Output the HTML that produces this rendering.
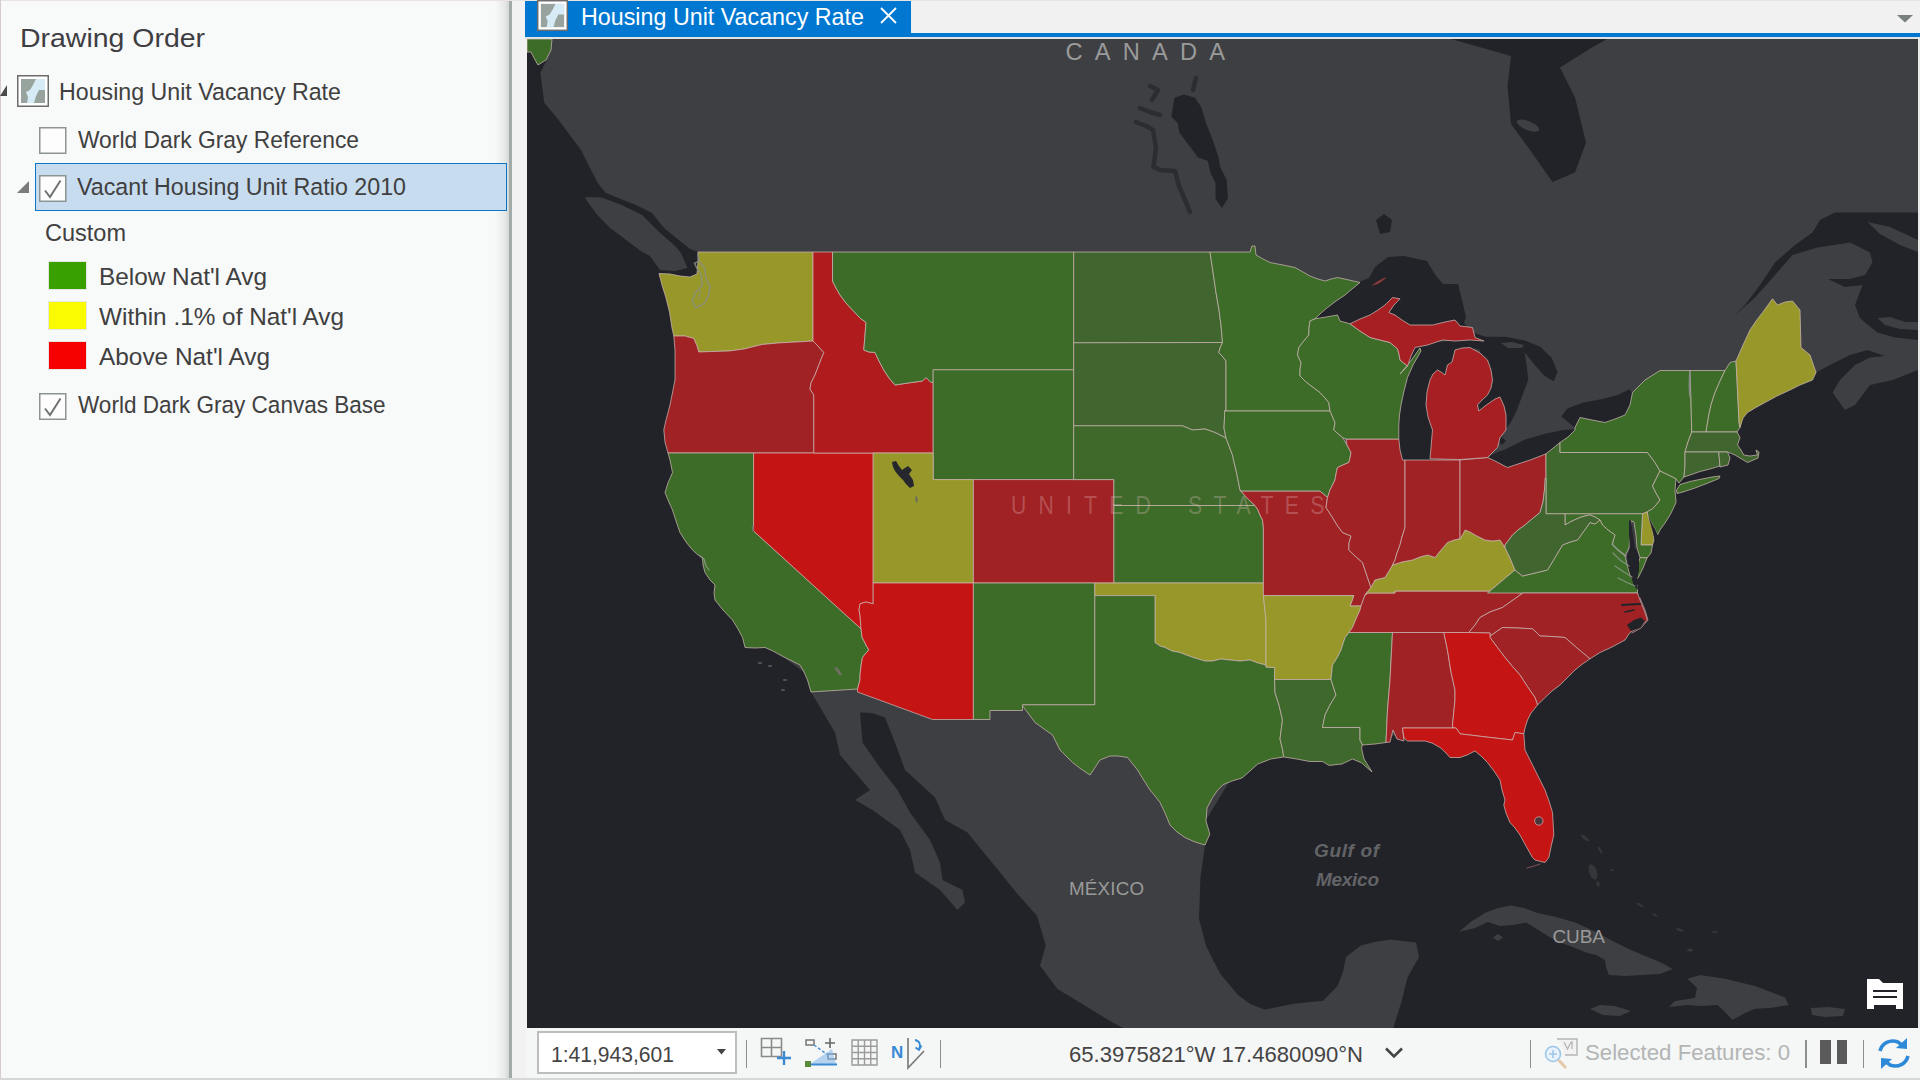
<!DOCTYPE html>
<html><head><meta charset="utf-8"><title>Housing Unit Vacancy Rate</title>
<style>
html,body{margin:0;padding:0}
body{width:1920px;height:1080px;overflow:hidden;position:relative;background:#f5f6f6;font-family:"Liberation Sans",sans-serif;color:#444}
.abs{position:absolute}
.t{position:absolute;white-space:nowrap;transform-origin:0 0;line-height:1}
.cb{position:absolute;width:25px;height:25px;border:1px solid #9a9a9a;background:#fff;box-sizing:border-box}
</style></head><body>

<div class="abs" style="left:0;top:0;width:1920px;height:1px;background:#e8e2e2"></div>
<div class="abs" style="left:0;top:1px;width:512px;height:1079px;background:linear-gradient(90deg,#f8f9f9 0,#f8f9f9 495px,#e6e7e7 505px,#d4d6d5 509px,#a2aba7 509.5px,#a2aba7 512px)"></div>
<div class="abs" style="left:512px;top:1px;width:15px;height:1079px;background:#f2f2f2"></div>
<div class="abs" style="left:0;top:0;width:1px;height:1080px;background:#d3cbce"></div>
<div class="t" style="left:19.6px;top:24.8px;font-size:26.5px;color:#3d3d42;transform:scaleX(1.0737);">Drawing Order</div>
<svg class="abs" style="left:0;top:84px" width="8" height="14" viewBox="0 0 8 14"><path d="M7 1 L7 12 L0 12 Z" fill="#4a4a4a"/></svg>
<svg class="abs" style="left:17.0px;top:74.8px" width="32" height="32" viewBox="0 0 32 32"><rect x="0.75" y="0.75" width="30.5" height="30.5" fill="#fff" stroke="#6d6b6b" stroke-width="1.5"/><rect x="4" y="4" width="24" height="24" fill="#97a39c"/><path d="M19 4 L28 4 L28 15 L22 15 L19 21 L17 28 L10 28 L11 22 L9 17 L13 15 L16 10 Z" fill="#d6ebf5"/></svg>
<div class="t" style="left:59.4px;top:79.6px;font-size:23.9px;color:#404040;transform:scaleX(0.9710);">Housing Unit Vacancy Rate</div>
<svg class="abs" style="left:39.3px;top:127.4px" width="28" height="28" viewBox="0 0 28 28"><rect x="0.75" y="0.75" width="26" height="25.5" fill="#fdfdfd" stroke="#8c9490" stroke-width="1.5"/></svg>
<div class="t" style="left:78.3px;top:127.5px;font-size:23.9px;color:#404040;transform:scaleX(0.9547);">World Dark Gray Reference</div>
<div class="abs" style="left:35px;top:163px;width:471.7px;height:47.5px;box-sizing:border-box;border:1.5px solid #0b76c8;background:#c7dcef"></div>
<svg class="abs" style="left:17px;top:180.5px" width="13" height="13" viewBox="0 0 13 13"><path d="M12 0 L12 12 L0 12 Z" fill="#7b7b7b"/></svg>
<svg class="abs" style="left:39.3px;top:175.3px" width="28" height="28" viewBox="0 0 28 28"><rect x="0.75" y="0.75" width="26" height="25.5" fill="#fdfdfd" stroke="#8c9490" stroke-width="1.5"/><path d="M6 15.5 L11 22 L21.5 5.5" fill="none" stroke="#6e7372" stroke-width="2"/></svg>
<div class="t" style="left:77.3px;top:175.4px;font-size:23.9px;color:#404040;transform:scaleX(0.9727);">Vacant Housing Unit Ratio 2010</div>
<div class="t" style="left:44.8px;top:221.2px;font-size:23.9px;color:#404040;transform:scaleX(0.9845);">Custom</div>
<div class="abs" style="left:47.5px;top:260.8px;width:39.5px;height:29px;box-sizing:border-box;border:1px solid #e4e6e2;background:#38a000"></div>
<div class="t" style="left:99.0px;top:264.7px;font-size:23.9px;color:#404040;transform:scaleX(1.0191);">Below Nat'l Avg</div>
<div class="abs" style="left:47.5px;top:300.7px;width:39.5px;height:29px;box-sizing:border-box;border:1px solid #e4e6e2;background:#fafa00"></div>
<div class="t" style="left:99.0px;top:304.7px;font-size:23.9px;color:#404040;transform:scaleX(1.0188);">Within .1% of Nat'l Avg</div>
<div class="abs" style="left:47.5px;top:341.2px;width:39.5px;height:29px;box-sizing:border-box;border:1px solid #e4e6e2;background:#f60000"></div>
<div class="t" style="left:99.0px;top:344.7px;font-size:23.9px;color:#404040;transform:scaleX(1.0209);">Above Nat'l Avg</div>
<svg class="abs" style="left:39.3px;top:393.0px" width="28" height="28" viewBox="0 0 28 28"><rect x="0.75" y="0.75" width="26" height="25.5" fill="#fdfdfd" stroke="#8c9490" stroke-width="1.5"/><path d="M6 15.5 L11 22 L21.5 5.5" fill="none" stroke="#6e7372" stroke-width="2"/></svg>
<div class="t" style="left:78.3px;top:393.2px;font-size:23.9px;color:#404040;transform:scaleX(0.9430);">World Dark Gray Canvas Base</div>
<div class="abs" style="left:526px;top:1px;width:1394px;height:32px;background:#f1f1f1"></div>
<div class="abs" style="left:525px;top:33px;width:1395px;height:4px;background:#0078d2"></div>
<div class="abs" style="left:525px;top:37px;width:1395px;height:2px;background:#e2e2e2"></div>
<div class="abs" style="left:525px;top:1px;width:386px;height:36px;background:#0078d2"></div>
<svg class="abs" style="left:537.3px;top:0.0px" width="31" height="31" viewBox="0 0 32 32"><rect x="0.75" y="0.75" width="30.5" height="30.5" fill="#fff" stroke="#6d6b6b" stroke-width="1.5"/><rect x="4" y="4" width="24" height="24" fill="#97a39c"/><path d="M19 4 L28 4 L28 15 L22 15 L19 21 L17 28 L10 28 L11 22 L9 17 L13 15 L16 10 Z" fill="#d6ebf5"/></svg>
<div class="t" style="left:580.8px;top:4.9px;font-size:24.4px;color:#ffffff;transform:scaleX(0.9545);">Housing Unit Vacancy Rate</div>
<svg class="abs" style="left:879px;top:6.3px" width="20" height="20" viewBox="0 0 20 20"><path d="M2 2 L17 17 M17 2 L2 17" stroke="#fff" stroke-width="1.8" fill="none"/></svg>
<svg class="abs" style="left:1896.5px;top:15px" width="16" height="8" viewBox="0 0 16 8"><path d="M0 0 L16 0 L8 7.5 Z" fill="#7a807d"/></svg>
<div class="abs" style="left:527px;top:39px;width:1391px;height:989px;background:#222328;overflow:hidden">
<svg width="1391" height="989" viewBox="0 0 1391 989" style="position:absolute;left:0;top:0">
<path d="M25.6,-1.0L1391.0,-1.0L1391.0,173.5L1308.0,173.5L1293.0,181.0L1285.5,193.5L1268.0,206.0L1248.0,223.5L1233.0,246.0L1218.0,266.0L1205.5,278.5L1228.0,258.5L1248.0,236.0L1265.5,216.0L1290.5,208.5L1323.0,203.5L1343.0,213.5L1345.5,223.5L1338.0,236.0L1323.0,240.0L1301.0,240.0L1318.0,248.0L1335.5,246.0L1328.0,266.0L1333.0,279.0L1338.0,283.5L1350.5,293.5L1368.0,298.5L1391.0,301.0L1391.0,331.0L1365.5,341.0L1343.0,346.0L1328.0,366.0L1318.0,371.0L1305.5,353.5L1313.0,341.0L1328.0,326.0L1343.0,318.5L1358.0,317.0L1340.5,311.0L1323.0,316.0L1303.0,326.0L1289.0,333.5L1263.0,339.0L1209.0,376.0L1203.0,411.0L1173.0,421.0L1145.0,435.0L1123.0,481.0L1103.0,521.0L1105.0,556.0L1111.0,573.0L1058.0,616.0L1005.0,661.0L991.0,699.0L1013.0,761.0L1018.0,806.0L1011.0,811.0L983.0,751.0L965.0,721.0L943.0,706.0L913.0,701.0L873.0,696.0L833.0,701.0L818.0,711.0L758.0,706.0L708.0,733.0L673.0,791.0L678.0,806.0L673.4,839.0L672.0,880.0L679.0,906.4L686.0,921.0L693.8,935.6L711.0,956.0L723.0,965.0L737.6,970.6L766.8,964.8L796.0,961.8L810.5,947.0L816.0,933.0L819.0,918.0L833.8,906.4L848.0,903.0L863.0,900.6L889.0,903.5L892.0,918.0L880.5,938.5L874.7,961.8L866.0,990.0L597.6,990.0L583.0,982.0L559.7,967.7L530.5,950.0L513.0,926.8L518.8,906.4L510.0,877.0L489.7,854.0L466.0,824.8L453.0,809.0L440.5,793.5L418.0,781.0L408.0,758.5L378.0,731.0L368.0,703.5L358.0,678.5L345.0,674.0L333.0,673.5L335.5,703.5L353.0,728.5L370.5,751.0L383.0,773.5L403.0,801.0L413.0,823.5L415.5,841.0L435.5,851.0L438.0,863.5L430.5,871.0L413.0,851.0L388.0,833.5L383.0,811.0L373.0,791.0L345.5,771.0L328.0,761.0L343.0,751.0L313.0,716.0L308.0,693.5L284.0,653.0L288.0,641.0L233.0,601.0L193.0,551.0L163.0,501.0L148.0,431.0L153.0,311.0L173.0,261.0L171.0,213.0L163.0,210.0L153.0,202.0L137.0,189.0L125.0,174.0L109.0,166.0L94.8,160.5L78.5,153.8L70.4,143.6L62.2,127.3L54.0,111.0L41.9,94.8L29.7,78.5L17.4,64.0L15.4,50.0L13.4,33.7L19.5,21.4Z" fill="#3e3f42"/>
<path d="M58.0,158.0L74.5,158.5L94.8,166.0L115.0,176.0L131.5,192.5L147.8,206.8L154.0,214.0L160.5,229.0L148.0,232.0L133.0,231.0L123.0,217.0L115.2,213.0L98.9,200.7L82.6,188.4L70.4,176.0L60.0,162.0Z" fill="#3e3f42"/>
<path d="M931.8,893.0L945.0,882.0L958.0,874.0L971.0,869.0L984.0,866.6L997.0,869.0L1010.5,874.0L1029.0,878.0L1048.0,883.5L1067.0,892.0L1085.5,902.0L1104.0,911.0L1123.0,919.0L1135.0,924.0L1145.5,930.0L1133.0,935.0L1115.5,936.0L1098.0,937.0L1081.8,936.0L1079.0,928.0L1078.0,921.0L1069.0,916.0L1059.0,913.5L1043.0,907.0L1029.0,902.0L1013.0,892.0L999.0,883.5L986.0,886.0L973.0,887.0L961.0,883.0L948.0,889.0Z" fill="#3e3f42"/>
<path d="M1160.5,939.8L1173.0,936.0L1198.0,939.8L1228.0,947.0L1258.0,958.5L1261.8,966.0L1243.0,969.0L1228.0,969.8L1218.0,974.0L1205.5,981.0L1198.0,973.0L1190.5,966.0L1173.0,967.0L1160.5,966.0L1141.8,968.0L1148.0,962.0L1168.0,959.0L1170.0,949.0Z" fill="#3e3f42"/>
<path d="M1063.0,970.0L1073.0,966.0L1088.0,967.0L1104.0,972.0L1093.0,977.0L1076.0,976.0Z" fill="#3e3f42"/>
<path d="M1284.0,969.0L1301.0,968.0L1318.0,970.0L1316.0,977.0L1298.0,978.0L1285.0,976.0Z" fill="#3e3f42"/>
<path d="M1340.5,183.0L1363.0,188.0L1391.0,201.0L1391.0,213.0L1373.0,206.0L1353.0,195.0Z" fill="#3e3f42"/>
<path d="M1350.5,279.0L1363.0,278.0L1378.0,283.0L1391.0,283.0L1391.0,291.0L1373.0,290.0L1358.0,286.0Z" fill="#3e3f42"/>
<path d="M966.0,898.5L971.0,895.0L976.0,898.5L971.0,902.0Z" fill="#3e3f42"/>
<path d="M783.0,282.0L800.5,268.5L818.0,256.0L832.0,243.0L842.0,239.0L848.0,228.0L861.0,218.0L877.0,217.0L900.0,222.0L908.0,235.5L916.0,245.0L931.0,245.0L935.0,261.0L939.0,278.0L937.0,284.0L943.0,291.0L933.0,296.0L883.0,296.0L863.0,281.0L823.0,291.0Z" fill="#222328"/>
<path d="M873.0,306.0L959.0,299.0L943.0,313.0L913.0,341.0L909.0,426.0L868.0,426.0L868.0,341.0Z" fill="#222328"/>
<path d="M939.0,294.0L947.0,294.0L958.6,297.7L978.0,297.7L997.5,301.6L1013.0,307.4L1024.7,319.0L1030.5,332.7L1026.7,342.4L1017.0,336.6L1007.0,325.0L997.5,313.0L999.4,325.0L1001.4,340.5L995.5,356.0L989.7,371.6L983.9,383.3L978.0,391.0L973.0,399.0L953.0,381.0L948.0,361.0L953.0,311.0L938.0,306.0Z" fill="#222328"/>
<path d="M960.0,420.0L964.4,416.0L972.0,412.4L978.0,410.5L997.5,400.8L1017.0,395.0L1036.4,391.0L1050.0,390.0L1050.0,394.0L1035.0,407.0L1019.0,417.0L1003.0,423.0L980.5,430.0L968.0,424.0Z" fill="#222328"/>
<path d="M1034.4,377.4L1040.3,369.6L1055.8,363.8L1075.3,360.0L1090.8,356.0L1102.5,350.2L1106.4,356.0L1106.0,368.0L1098.0,379.0L1078.0,385.0L1053.0,380.0L1048.0,389.0Z" fill="#222328"/>
<path d="M971.0,402.0L975.0,398.0L979.0,402.0L975.0,406.0Z" fill="#222328"/>
<path d="M920.5,-1.0L1081.8,-1.0L1063.0,9.8L1033.0,28.5L1048.0,58.5L1059.0,103.5L1048.0,133.5L1025.5,143.0L1003.0,111.0L984.0,85.0L980.5,47.0L984.0,17.0Z" fill="#222328"/>
<path d="M647.5,58.8L657.0,55.6L668.0,58.8L674.3,68.2L679.0,84.0L685.3,99.7L691.6,118.6L693.2,128.0L699.5,140.6L701.0,159.5L694.8,169.0L688.5,159.5L688.5,143.8L683.7,134.3L680.6,121.7L671.0,118.6L661.7,106.0L652.3,93.4L650.7,84.0L644.4,77.7L646.0,66.6Z" fill="#222328"/>
<path d="M849.0,181.0L857.0,175.0L865.0,181.0L863.0,193.0L853.0,195.0Z" fill="#222328"/>
<path d="M623.0,47.0L631.0,51.0L625.0,61.0" fill="none" stroke="#2c2d32" stroke-width="4.5" stroke-linejoin="round" stroke-linecap="round"/>
<path d="M613.0,69.0L623.0,73.0L633.0,76.0" fill="none" stroke="#2c2d32" stroke-width="4.5" stroke-linejoin="round" stroke-linecap="round"/>
<path d="M609.0,83.0L619.0,87.0L626.0,91.0L629.0,109.0L626.5,128.0L633.0,131.0L648.0,132.0L652.0,147.0L658.0,161.0L663.0,173.0" fill="none" stroke="#2c2d32" stroke-width="4.5" stroke-linejoin="round" stroke-linecap="round"/>
<path d="M669.0,39.0L666.0,51.0" fill="none" stroke="#2c2d32" stroke-width="4.5" stroke-linejoin="round" stroke-linecap="round"/>
<ellipse cx="1001.0" cy="86.6" rx="12" ry="4.5" fill="#3e3f42" transform="rotate(22 1001.0 86.6)"/>
<path d="M974.0,304.0L985.0,303.0L997.0,306.0L995.0,309.0L981.0,309.0Z" fill="#3e3f42"/>
<path d="M844.0,247.0L851.0,242.0L859.0,238.0L858.0,240.0L851.0,245.0Z" fill="#8a3a3c"/>
<g stroke="#c9b4b0" stroke-opacity="0.75" stroke-width="1" stroke-linejoin="round">
<path d="M286.0,213.0L171.0,213.0L171.0,223.0L170.0,235.0L163.0,238.0L153.0,237.0L143.0,235.0L132.0,234.5L135.0,246.0L139.0,259.0L142.5,273.0L145.0,289.0L146.8,297.0L146.8,297.0L158.0,297.0L166.8,299.5L170.0,307.0L171.8,313.0L186.0,312.5L202.0,312.0L217.0,310.0L235.0,305.5L251.0,304.0L286.0,302.0Z" fill="#98982a"/>
<path d="M146.8,297.0L158.0,297.0L166.8,299.5L170.0,307.0L171.8,313.0L186.0,312.5L202.0,312.0L217.0,310.0L235.0,305.5L251.0,304.0L286.0,302.0L286.0,302.0L291.0,307.0L296.8,313.5L293.0,323.0L288.0,336.0L284.0,344.0L283.0,350.0L286.8,356.0L286.8,414.0L141.0,414.0L141.0,414.0L138.0,403.0L136.8,391.0L139.0,381.0L143.0,366.0L145.0,356.0L148.0,341.0L148.0,311.0L146.8,297.0Z" fill="#a02224"/>
<path d="M141.0,414.0L226.6,414.0L226.6,492.0L334.0,589.8L334.0,589.8L335.0,598.0L339.0,606.0L341.8,611.0L339.0,614.0L335.5,618.5L334.0,627.0L333.0,636.0L333.0,641.0L330.5,650.0L284.0,653.0L284.0,653.0L280.5,641.0L277.0,633.0L273.0,626.0L263.0,621.0L253.0,616.0L246.0,612.0L238.0,608.5L228.0,609.0L218.0,608.5L215.5,598.5L211.0,590.0L205.5,581.0L196.0,571.0L188.0,561.0L187.0,554.0L188.0,546.0L183.0,541.0L178.0,533.5L176.0,526.0L175.5,518.5L171.0,516.0L165.5,511.0L159.0,503.0L153.0,493.5L149.0,482.0L145.5,471.0L141.0,461.0L138.0,453.5L141.0,444.0L145.5,433.5L143.0,421.0L141.0,414.0Z" fill="#3d6c29"/>
<path d="M226.6,414.0L346.2,414.0L346.2,564.8L346.2,564.8L339.0,563.0L333.0,564.8L332.0,571.0L333.0,576.0L334.0,589.8L226.6,492.0Z" fill="#c41414"/>
<path d="M286.0,213.0L305.5,213.0L305.5,242.0L309.0,249.0L313.0,256.0L319.0,264.0L325.5,271.0L333.0,279.0L339.0,283.5L338.0,296.0L336.8,311.0L342.0,313.0L348.0,313.5L352.0,322.0L356.8,331.0L362.0,339.0L368.0,346.0L381.0,344.0L395.5,342.0L399.0,338.5L404.0,343.5L406.2,343.0L406.2,414.0L286.8,414.0L286.8,414.0L286.8,356.0L283.0,350.0L284.0,344.0L288.0,336.0L293.0,323.0L296.8,313.5L291.0,307.0L286.0,302.0Z" fill="#b01c1e"/>
<path d="M305.5,213.0L546.7,213.0L546.7,330.8L406.2,330.8L406.2,343.0L404.0,343.5L399.0,338.5L395.5,342.0L381.0,344.0L368.0,346.0L362.0,339.0L356.8,331.0L352.0,322.0L348.0,313.5L342.0,313.0L336.8,311.0L338.0,296.0L339.0,283.5L333.0,279.0L325.5,271.0L319.0,264.0L313.0,256.0L309.0,249.0L305.5,242.0L305.5,213.0Z" fill="#3d6c29"/>
<path d="M406.2,330.8L546.7,330.8L546.7,440.6L406.2,440.6Z" fill="#3d6c29"/>
<path d="M346.2,414.0L406.2,414.0L406.2,440.6L446.4,440.6L446.4,544.0L346.2,544.0Z" fill="#98982a"/>
<path d="M446.4,440.6L586.9,440.6L586.9,544.0L446.4,544.0Z" fill="#a02224"/>
<path d="M346.2,544.0L446.4,544.0L446.4,680.5L405.5,680.5L330.5,653.0L330.5,650.0L333.0,641.0L333.0,636.0L334.0,627.0L335.5,618.5L339.0,614.0L341.8,611.0L339.0,606.0L335.0,598.0L334.0,589.8L334.0,589.8L333.0,576.0L332.0,571.0L333.0,564.8L339.0,563.0L346.2,564.8Z" fill="#c41414"/>
<path d="M446.4,544.0L567.8,544.0L567.8,665.8L495.5,665.8L495.5,671.5L463.0,671.5L463.0,680.5L446.4,680.5Z" fill="#3d6c29"/>
<path d="M546.7,213.0L683.0,213.0L686.0,233.0L689.0,253.5L692.0,271.0L694.0,286.0L695.5,303.5L546.7,303.8Z" fill="#40652f"/>
<path d="M546.7,303.8L695.5,303.5L693.0,309.0L691.8,313.5L696.0,318.0L699.0,322.0L699.0,372.0L697.5,379.0L697.0,389.0L699.0,399.0L699.0,399.0L688.0,393.5L678.0,390.0L665.5,391.0L655.5,386.8L546.7,386.8Z" fill="#40652f"/>
<path d="M546.7,386.8L655.5,386.8L665.5,391.0L678.0,390.0L688.0,393.5L699.0,399.0L702.0,407.0L705.5,416.0L707.0,423.0L709.0,431.0L711.0,441.0L713.0,451.0L720.0,459.0L728.0,466.5L586.9,466.5L586.9,440.6L546.7,440.6Z" fill="#3e692b"/>
<path d="M586.9,466.5L728.0,466.5L731.0,471.0L733.0,476.0L735.5,481.0L736.4,488.5L736.4,544.0L586.9,544.0Z" fill="#3d6c29"/>
<path d="M567.8,544.0L736.4,544.0L736.4,556.6L739.0,581.0L739.0,626.0L739.0,626.0L731.0,624.0L723.0,621.0L713.0,622.0L703.0,621.0L694.0,620.0L685.5,622.0L678.0,622.0L670.5,619.8L662.0,617.0L653.0,613.5L645.0,612.0L638.0,608.5L633.0,607.0L628.0,603.5L628.0,556.6L567.8,556.6Z" fill="#98982a"/>
<path d="M567.8,556.6L628.0,556.6L628.0,603.5L633.0,607.0L638.0,608.5L645.0,612.0L653.0,613.5L662.0,617.0L670.5,619.8L678.0,622.0L685.5,622.0L694.0,620.0L703.0,621.0L713.0,622.0L723.0,621.0L731.0,624.0L739.0,626.0L739.0,628.0L747.6,628.5L747.6,640.5L748.0,653.5L752.0,666.0L755.5,681.0L753.0,700.0L755.4,709.5L756.7,718.0L743.8,720.0L730.8,725.0L723.0,732.0L715.0,739.0L705.0,742.0L695.8,745.8L690.0,752.0L685.4,758.8L680.0,769.0L679.0,782.0L682.8,795.0L678.0,806.0L668.0,803.0L658.0,798.5L650.0,793.0L643.0,786.0L638.0,774.0L633.0,763.5L628.0,757.0L623.0,751.0L616.0,740.0L610.5,731.0L605.0,724.0L600.5,718.5L591.0,717.0L583.0,717.0L573.0,721.0L567.0,730.0L563.0,736.0L554.0,730.0L545.5,723.5L539.0,717.0L533.0,711.0L529.0,703.0L525.5,696.0L517.0,690.0L508.0,683.5L501.0,674.0L495.5,667.0L495.5,665.8L567.8,665.8Z" fill="#3d6c29"/>
<path d="M683.0,213.0L723.0,213.0L725.0,207.0L728.0,207.0L729.0,216.0L736.0,220.0L743.0,223.5L756.0,226.0L768.0,228.5L776.0,233.0L783.0,237.0L791.0,240.0L798.0,242.0L804.0,240.0L810.5,238.5L822.0,241.0L833.0,243.5L825.0,250.0L818.0,256.0L809.0,262.0L800.5,268.5L794.0,274.0L788.0,279.8L783.0,282.0L782.0,289.0L781.8,296.0L776.0,303.0L771.8,308.5L770.5,316.0L774.0,323.5L773.0,331.0L773.0,337.0L778.0,342.0L783.0,346.0L793.0,353.5L798.0,359.0L801.8,363.5L803.0,372.0L697.5,372.0L699.0,372.0L699.0,322.0L696.0,318.0L691.8,313.5L693.0,309.0L695.5,303.5L694.0,286.0L692.0,271.0L689.0,253.5L686.0,233.0L683.0,213.0Z" fill="#3d6c29"/>
<path d="M697.5,372.0L803.0,372.0L808.0,383.5L806.8,391.0L815.5,398.5L820.0,406.0L824.0,413.5L823.0,419.0L821.8,423.5L816.0,426.0L810.5,428.5L809.0,435.0L808.0,441.0L805.0,447.0L803.0,451.0L800.5,458.5L793.0,452.2L714.0,452.2L713.0,451.0L711.0,441.0L709.0,431.0L707.0,423.0L705.5,416.0L702.0,407.0L699.0,399.0L697.0,389.0L697.5,379.0L697.5,372.0Z" fill="#3d6c29"/>
<path d="M714.0,452.2L793.0,452.2L800.5,458.5L799.0,468.5L805.5,478.5L810.0,486.0L815.5,493.5L824.0,497.0L822.0,504.0L821.8,511.0L828.0,517.0L835.5,523.5L838.0,531.0L840.5,538.5L844.0,548.5L838.0,556.0L834.0,567.0L823.0,567.0L826.8,556.6L736.4,556.6L736.4,488.5L735.5,481.0L733.0,476.0L731.0,471.0L728.0,466.5L720.0,459.0L713.0,451.0Z" fill="#a02224"/>
<path d="M736.4,556.6L826.8,556.6L823.0,567.0L834.0,567.0L833.0,571.0L829.0,580.0L825.5,588.5L822.0,593.5L818.0,598.5L814.0,611.0L810.0,619.0L805.5,626.0L804.0,640.5L747.6,640.5L747.6,628.5L739.0,628.0L739.0,581.0Z" fill="#98982a"/>
<path d="M747.6,640.5L804.0,640.5L809.0,656.0L803.0,666.0L798.0,676.0L795.5,688.5L833.0,688.5L833.0,701.0L835.5,706.0L834.5,709.0L837.0,720.0L845.0,732.9L834.5,723.8L825.4,720.0L815.0,725.0L802.0,726.4L795.6,722.5L782.7,722.5L769.7,720.0L756.7,718.0L755.4,709.5L753.0,700.0L755.5,681.0L752.0,666.0L748.0,653.5L747.6,640.5Z" fill="#3e682c"/>
<path d="M822.0,593.5L865.5,593.5L863.0,641.0L860.5,671.0L859.0,703.5L848.0,705.0L835.5,706.0L833.0,701.0L833.0,688.5L795.5,688.5L798.0,676.0L803.0,666.0L809.0,656.0L804.0,640.5L805.5,626.0L810.0,619.0L814.0,611.0L818.0,598.5L822.0,593.5Z" fill="#3d6c29"/>
<path d="M865.5,593.5L916.8,593.5L920.5,611.0L924.0,633.0L928.0,651.0L928.0,661.0L925.5,686.0L926.0,689.0L875.5,689.0L877.0,702.0L870.0,700.0L866.0,691.0L863.0,703.0L859.0,703.5L860.5,671.0L863.0,641.0Z" fill="#a02224"/>
<path d="M838.0,556.0L841.0,554.0L868.0,554.0L868.0,552.0L963.0,552.0L996.0,554.0L993.0,556.0L975.5,568.5L963.0,573.0L953.0,578.5L948.0,586.0L943.0,592.0L941.8,593.5L822.0,593.5L825.5,588.5L829.0,580.0L833.0,571.0L834.0,567.0L838.0,556.0Z" fill="#a02224"/>
<path d="M844.0,548.5L848.0,541.0L858.0,538.5L862.0,532.0L865.5,526.0L875.0,523.0L885.5,521.0L893.0,518.0L900.5,516.0L908.0,518.5L914.0,511.0L920.5,503.5L927.0,501.0L933.0,499.8L936.0,495.0L938.0,491.0L943.0,493.0L948.0,496.0L958.0,501.0L966.0,502.0L973.0,501.0L978.0,508.5L983.0,519.0L988.0,531.0L976.0,541.0L963.0,552.0L868.0,552.0L868.0,554.0L841.0,554.0L838.0,556.0Z" fill="#98982a"/>
<path d="M819.0,400.0L871.8,400.0L873.0,411.0L875.5,421.0L878.0,421.0L878.0,488.5L875.0,498.0L873.0,506.0L870.0,514.0L868.0,521.0L865.5,526.0L862.0,532.0L858.0,538.5L848.0,541.0L844.0,548.5L840.5,538.5L838.0,531.0L835.5,523.5L828.0,517.0L821.8,511.0L822.0,504.0L824.0,497.0L815.5,493.5L810.0,486.0L805.5,478.5L799.0,468.5L800.5,458.5L800.5,458.5L803.0,451.0L805.0,447.0L808.0,441.0L809.0,435.0L810.5,428.5L816.0,426.0L821.8,423.5L823.0,419.0L824.0,413.5L820.0,406.0Z" fill="#a02224"/>
<path d="M878.0,421.0L933.0,421.0L933.0,499.8L927.0,501.0L920.5,503.5L914.0,511.0L908.0,518.5L900.5,516.0L893.0,518.0L885.5,521.0L875.0,523.0L865.5,526.0L868.0,521.0L870.0,514.0L873.0,506.0L875.0,498.0L878.0,488.5L878.0,421.0Z" fill="#a02224"/>
<path d="M933.0,421.0L960.5,418.5L968.0,422.0L980.5,428.5L991.0,425.0L1003.0,421.0L1011.0,418.0L1019.0,414.8L1019.0,439.0L1017.5,451.0L1016.0,463.0L1013.0,473.5L1005.0,480.0L998.0,486.0L991.0,491.0L985.5,496.0L978.0,506.0L978.0,508.5L978.0,508.5L973.0,501.0L966.0,502.0L958.0,501.0L948.0,496.0L943.0,493.0L938.0,491.0L936.0,495.0L933.0,499.8Z" fill="#a02224"/>
<path d="M788.0,279.8L799.0,278.0L810.5,276.0L813.0,282.0L823.0,284.8L833.0,292.0L843.0,298.5L853.0,301.0L863.0,303.5L870.5,309.8L872.0,315.0L873.0,321.0L880.5,327.0L876.0,332.0L873.0,335.0L883.0,323.0L893.0,309.0L894.0,312.0L886.0,326.0L880.5,338.5L877.0,352.0L874.0,366.0L872.5,376.0L871.8,386.0L871.8,400.0L819.0,400.0L815.5,398.5L806.8,391.0L808.0,383.5L803.0,372.0L801.8,363.5L798.0,359.0L793.0,353.5L783.0,346.0L778.0,342.0L773.0,337.0L773.0,331.0L774.0,323.5L770.5,316.0L771.8,308.5L776.0,303.0L781.8,296.0L782.0,289.0L783.0,282.0Z" fill="#3d6c29"/>
<path d="M903.0,419.8L905.5,391.0L901.0,378.0L899.0,366.0L900.0,353.0L903.0,341.0L906.0,335.0L910.5,331.0L914.0,333.0L918.0,336.0L920.5,326.0L925.0,323.0L928.0,311.0L935.0,309.0L943.0,308.5L953.0,314.0L960.5,321.0L964.0,331.0L965.5,341.0L964.0,349.0L960.5,356.0L955.0,361.0L950.5,366.0L951.8,372.0L958.0,367.0L963.0,363.5L968.0,360.0L973.0,358.0L977.0,367.0L979.0,376.0L979.0,391.0L973.0,398.5L970.5,408.5L960.5,418.5L933.0,420.5Z" fill="#a81f23"/>
<path d="M823.0,284.8L833.0,280.0L843.0,276.0L851.0,271.0L858.0,266.0L865.5,258.5L873.0,259.8L867.0,266.0L861.8,273.5L868.0,276.0L875.0,281.0L883.0,286.0L905.5,286.0L918.0,283.0L928.0,281.0L933.0,287.0L945.5,288.5L948.0,298.5L956.8,302.0L943.0,301.0L928.0,302.0L915.5,301.0L900.5,306.0L888.0,308.5L884.0,317.0L880.5,327.0L873.0,321.0L872.0,315.0L870.5,309.8L863.0,303.5L853.0,301.0L843.0,298.5L833.0,292.0Z" fill="#a81f23"/>
<path d="M1019.0,414.8L1033.0,403.5L1033.0,413.5L1120.5,413.5L1128.0,423.5L1133.0,432.0L1129.0,440.0L1125.5,447.0L1129.0,454.0L1133.0,461.0L1129.0,466.0L1125.5,469.8L1120.0,473.0L1115.5,474.8L1019.0,474.8Z" fill="#3e682c"/>
<path d="M1033.0,413.5L1033.0,403.5L1041.0,398.0L1048.0,391.0L1048.0,388.5L1053.0,378.5L1065.0,381.0L1078.0,383.5L1088.0,380.0L1098.0,376.0L1103.0,366.0L1105.5,353.5L1118.0,341.0L1133.0,331.5L1163.0,331.5L1164.0,361.0L1164.7,393.0L1161.0,403.0L1158.0,413.0L1158.0,426.0L1157.0,438.0L1152.0,444.0L1149.0,439.8L1133.0,432.0L1128.0,423.5L1120.5,413.5Z" fill="#3d6c29"/>
<path d="M1149.5,451.0L1153.0,445.5L1163.0,442.5L1175.0,440.0L1185.0,438.0L1193.0,437.0L1192.0,439.5L1181.0,444.0L1168.0,449.0L1156.0,453.0L1150.0,454.5Z" fill="#3d6c29"/>
<path d="M1163.0,331.5L1198.0,331.5L1193.0,342.0L1188.0,353.5L1184.0,366.0L1181.8,376.0L1179.0,393.0L1164.7,393.0L1164.0,361.0Z" fill="#3d6c29"/>
<path d="M1198.0,331.5L1203.0,323.5L1209.0,322.0L1210.0,341.0L1211.0,361.0L1212.0,383.0L1213.0,388.5L1210.0,393.0L1179.0,393.0L1181.8,376.0L1184.0,366.0L1188.0,353.5L1193.0,342.0L1198.0,331.5Z" fill="#3d6c29"/>
<path d="M1209.0,322.0L1216.0,306.0L1223.0,291.0L1229.0,282.0L1235.5,273.5L1245.5,259.8L1250.5,266.0L1258.0,263.0L1265.5,262.0L1273.0,271.0L1274.0,308.5L1283.0,316.0L1289.0,333.5L1285.5,341.0L1273.0,346.0L1263.0,351.0L1250.0,357.0L1238.0,363.5L1228.0,369.0L1220.5,373.5L1216.0,379.0L1213.0,388.5L1212.0,383.0L1211.0,361.0L1210.0,341.0L1209.0,322.0Z" fill="#98982a"/>
<path d="M1164.7,393.0L1210.0,393.0L1213.0,398.5L1210.5,406.0L1214.0,411.0L1216.8,416.0L1223.0,417.0L1230.5,416.0L1229.0,411.0L1232.0,413.0L1231.0,419.0L1220.5,423.5L1213.0,419.0L1208.0,416.0L1200.5,413.0L1158.0,413.0L1161.0,403.0Z" fill="#40652f"/>
<path d="M1158.0,413.0L1191.8,413.0L1193.0,427.0L1183.0,430.0L1173.0,432.5L1163.0,436.0L1157.0,438.0L1158.0,426.0Z" fill="#40652f"/>
<path d="M1191.8,413.0L1200.5,413.0L1203.0,419.0L1201.0,426.0L1193.0,428.0Z" fill="#40652f"/>
<path d="M1133.0,432.0L1149.0,439.8L1148.0,451.0L1149.0,463.5L1146.0,470.0L1143.0,476.0L1138.0,484.0L1133.0,491.0L1130.5,496.0L1128.0,490.0L1125.5,486.0L1121.0,477.0L1120.0,473.0L1125.5,469.8L1129.0,466.0L1133.0,461.0L1129.0,454.0L1125.5,447.0L1129.0,440.0L1133.0,432.0Z" fill="#3d6c29"/>
<path d="M1115.5,474.8L1120.0,473.0L1121.0,477.0L1123.0,483.0L1125.5,491.0L1127.0,501.0L1125.5,506.0L1114.0,506.0Z" fill="#98982a"/>
<path d="M1038.0,474.8L1115.5,474.8L1114.0,506.0L1125.5,506.0L1124.0,514.0L1120.0,519.0L1113.0,518.5L1110.0,509.0L1109.0,496.0L1107.0,483.0L1104.0,482.0L1103.0,496.0L1102.0,509.0L1098.0,517.0L1091.0,511.0L1085.5,506.0L1086.0,502.0L1088.0,496.0L1081.0,491.0L1075.5,486.0L1073.0,481.0L1073.0,481.0L1068.0,478.0L1063.0,476.0L1058.0,477.0L1053.0,478.5L1045.0,482.0L1038.0,486.0Z" fill="#3d6c29"/>
<path d="M960.5,554.0L963.0,552.0L976.0,541.0L988.0,531.0L995.5,537.0L1008.0,534.0L1020.5,531.0L1028.0,518.5L1035.5,506.0L1043.0,503.0L1050.5,501.0L1057.0,492.0L1063.0,483.5L1068.0,485.0L1073.0,481.0L1075.5,486.0L1081.0,491.0L1088.0,496.0L1086.0,502.0L1085.5,506.0L1091.0,511.0L1098.0,517.0L1101.0,529.0L1103.0,536.0L1107.0,544.0L1110.5,546.0L1110.5,554.0Z" fill="#3d6c29"/>
<path d="M1113.0,518.5L1120.0,519.0L1116.0,529.0L1111.0,539.0L1108.0,541.0L1110.0,529.0Z" fill="#3d6c29"/>
<path d="M978.0,508.5L978.0,506.0L985.5,496.0L991.0,491.0L998.0,486.0L1005.0,480.0L1013.0,473.5L1016.0,463.0L1017.5,451.0L1018.0,439.0L1019.0,439.0L1019.0,474.8L1038.0,474.8L1038.0,486.0L1045.0,482.0L1053.0,478.5L1058.0,477.0L1063.0,476.0L1068.0,478.0L1073.0,481.0L1068.0,485.0L1063.0,483.5L1057.0,492.0L1050.5,501.0L1043.0,503.0L1035.5,506.0L1028.0,518.5L1020.5,531.0L1008.0,534.0L995.5,537.0L988.0,531.0L983.0,519.0L978.0,508.5Z" fill="#40652f"/>
<path d="M996.0,554.0L1110.5,554.0L1113.0,561.0L1117.0,571.0L1120.5,581.0L1113.0,588.0L1103.0,593.5L1098.0,601.0L1085.0,608.0L1073.0,613.5L1063.0,619.8L1050.0,609.0L1038.0,598.5L1025.0,597.5L1013.0,597.0L1009.0,593.0L1005.5,589.8L990.0,589.0L975.5,588.5L969.0,593.0L963.0,597.0L963.0,594.0L941.8,593.5L943.0,592.0L948.0,586.0L953.0,578.5L963.0,573.0L975.5,568.5L993.0,556.0L996.0,554.0Z" fill="#a02224"/>
<path d="M963.0,597.0L969.0,593.0L975.5,588.5L990.0,589.0L1005.5,589.8L1009.0,593.0L1013.0,597.0L1025.0,597.5L1038.0,598.5L1050.0,609.0L1063.0,619.8L1055.5,625.0L1048.0,631.0L1040.0,639.0L1033.0,646.0L1025.0,652.0L1018.0,658.5L1010.5,666.0L1008.0,658.5L1000.0,647.0L993.0,636.0L985.0,627.0L978.0,618.5L970.0,608.0L963.0,598.5Z" fill="#a02224"/>
<path d="M916.8,593.5L941.8,593.5L963.0,594.0L963.0,598.5L970.0,608.0L978.0,618.5L985.0,627.0L993.0,636.0L1000.0,647.0L1008.0,658.5L1010.5,666.0L1004.0,674.0L1000.5,681.0L998.0,689.0L996.8,694.8L988.0,693.5L985.5,701.0L959.0,698.0L933.0,694.8L929.0,689.0L926.0,689.0L925.5,686.0L928.0,661.0L928.0,651.0L924.0,633.0L920.5,611.0Z" fill="#c41414"/>
<path d="M875.5,689.0L929.0,689.0L933.0,694.8L959.0,698.0L985.5,701.0L988.0,693.5L996.8,694.8L998.0,711.0L1003.0,721.0L1008.0,731.0L1013.0,741.0L1018.0,751.0L1022.0,762.0L1025.5,773.5L1026.8,796.0L1024.0,808.0L1021.8,818.5L1018.0,823.5L1008.0,821.0L1005.5,818.5L999.0,807.0L993.0,796.0L988.0,789.0L983.0,783.5L979.0,774.0L976.8,766.0L978.0,761.0L975.0,751.0L973.0,741.0L967.0,732.0L960.5,723.5L954.0,717.0L948.0,712.0L940.0,716.0L933.0,718.5L923.0,718.5L918.0,713.0L913.0,708.5L905.0,704.0L898.0,702.0L880.5,702.0L877.0,699.0Z" fill="#c41414"/>
<path d="M0.0,0.0L25.0,0.0L24.0,11.0L19.0,21.0L11.0,26.0L7.0,19.0L4.0,13.0L0.0,13.0Z" fill="#3d6c29"/>
</g>
<path d="M1102.0,481.0L1104.0,482.0L1106.0,496.0L1108.0,509.0L1112.0,519.0L1112.0,531.0L1110.0,541.0L1111.0,551.0L1107.0,547.0L1104.0,538.0L1101.0,527.0L1100.0,517.0L1103.0,509.0L1102.0,496.0Z" fill="#222328"/>
<path d="M1099.0,517.0L1091.0,511.0L1085.0,505.0" fill="none" stroke="#8d9a8a" stroke-width="1.6" stroke-opacity="0.80" stroke-linejoin="round" stroke-linecap="round"/>
<path d="M1102.0,527.0L1093.0,521.0L1086.0,514.0" fill="none" stroke="#8d9a8a" stroke-width="1.3" stroke-opacity="0.80" stroke-linejoin="round" stroke-linecap="round"/>
<path d="M1105.0,538.0L1097.0,533.0L1088.0,527.0" fill="none" stroke="#8d9a8a" stroke-width="1.3" stroke-opacity="0.80" stroke-linejoin="round" stroke-linecap="round"/>
<path d="M1108.0,547.0L1099.0,543.0L1091.0,539.0" fill="none" stroke="#8d9a8a" stroke-width="1.3" stroke-opacity="0.80" stroke-linejoin="round" stroke-linecap="round"/>
<path d="M1121.0,476.0L1125.0,485.0L1128.0,490.0L1131.0,497.0L1128.0,502.0L1125.5,492.0L1123.0,483.0Z" fill="#222328"/>
<path d="M1095.0,566.0L1103.0,565.5L1113.0,565.0" fill="none" stroke="#222328" stroke-width="2.2" stroke-opacity="1.00" stroke-linejoin="round" stroke-linecap="round"/>
<path d="M1098.0,573.0L1107.0,571.0" fill="none" stroke="#222328" stroke-width="1.5" stroke-opacity="1.00" stroke-linejoin="round" stroke-linecap="round"/>
<path d="M1100.0,586.0L1107.0,581.0L1114.0,578.5L1118.0,582.0L1113.0,589.0L1104.0,592.0Z" fill="#222328"/>
<path d="M1113.0,559.0L1118.0,571.0L1121.0,581.0L1114.0,589.0L1105.0,594.0" fill="none" stroke="#b08a8c" stroke-width="1.0" stroke-opacity="0.90" stroke-linejoin="round" stroke-linecap="round"/>
<path d="M167.4,224.3L171.9,222.0L177.4,228.8L179.7,242.0L183.0,246.6L181.9,255.4L177.4,264.3L168.6,268.8L165.2,262.0L168.6,253.2L175.2,246.6L174.0,235.4L169.7,228.8L167.4,224.3" fill="none" stroke="#8a8f80" stroke-width="1.4" stroke-opacity="0.90" stroke-linejoin="round" stroke-linecap="round"/>
<path d="M171.0,215.0L172.0,221.0" fill="none" stroke="#8a8f80" stroke-width="1.4" stroke-opacity="0.90" stroke-linejoin="round" stroke-linecap="round"/>
<path d="M173.0,251.0L172.0,260.0" fill="none" stroke="#8a8f80" stroke-width="1.2" stroke-opacity="0.80" stroke-linejoin="round" stroke-linecap="round"/>
<path d="M365.0,423.0L369.0,422.0L372.0,427.0L375.0,431.0L378.0,429.0L381.0,427.0L385.0,431.0L382.0,435.0L386.0,441.0L387.0,447.0L383.0,449.0L379.0,445.0L376.0,441.0L372.0,437.0L368.0,432.0L366.0,428.0Z" fill="#26272c"/>
<path d="M388.0,458.0L390.0,457.0L391.0,462.0L389.0,464.0Z" fill="#6d7060"/>
<path d="M224.5,487.0L226.5,487.0L227.0,492.0L225.0,492.0Z" fill="#6d7060"/>
<path d="M307.0,629.0L310.0,628.0L315.0,635.0L313.0,637.0Z" fill="#6d7060"/>
<circle cx="1011.8" cy="782.0" r="4.2" fill="#46383a" stroke="#d08888" stroke-width="1"/>
<path d="M1163.0,333.0L1162.5,346.0L1163.0,357.0" fill="none" stroke="#8a8d8a" stroke-width="2.0" stroke-opacity="0.90" stroke-linejoin="round" stroke-linecap="round"/>
<path d="M173.0,517.0L177.0,520.0L179.0,527.0L182.0,531.0" fill="none" stroke="#8c9a88" stroke-width="1.2" stroke-opacity="0.90" stroke-linejoin="round" stroke-linecap="round"/>
<ellipse cx="233.0" cy="624.0" rx="2.2" ry="1" fill="#56575a"/>
<ellipse cx="243.0" cy="627.0" rx="2.2" ry="1" fill="#56575a"/>
<ellipse cx="258.0" cy="641.0" rx="2.2" ry="1" fill="#56575a"/>
<ellipse cx="256.0" cy="651.0" rx="2.2" ry="1" fill="#56575a"/>
<ellipse cx="1058.0" cy="799.0" rx="5.0" ry="1.5" fill="#35363a" transform="rotate(40 1058.0 799.0)"/>
<ellipse cx="1073.0" cy="811.0" rx="4.0" ry="1.2" fill="#35363a" transform="rotate(60 1073.0 811.0)"/>
<ellipse cx="1066.0" cy="833.0" rx="8.0" ry="4.0" fill="#35363a" transform="rotate(70 1066.0 833.0)"/>
<ellipse cx="1071.0" cy="845.0" rx="3.0" ry="1.5" fill="#35363a" transform="rotate(80 1071.0 845.0)"/>
<ellipse cx="1085.0" cy="831.0" rx="2.0" ry="1.0" fill="#35363a" transform="rotate(0 1085.0 831.0)"/>
<ellipse cx="1113.0" cy="866.0" rx="4.0" ry="1.2" fill="#35363a" transform="rotate(30 1113.0 866.0)"/>
<ellipse cx="1128.0" cy="876.0" rx="3.0" ry="1.0" fill="#35363a" transform="rotate(30 1128.0 876.0)"/>
<ellipse cx="1153.0" cy="891.0" rx="4.0" ry="1.2" fill="#35363a" transform="rotate(20 1153.0 891.0)"/>
<ellipse cx="1188.0" cy="893.0" rx="3.0" ry="1.0" fill="#35363a" transform="rotate(0 1188.0 893.0)"/>
<ellipse cx="1163.0" cy="911.0" rx="3.0" ry="1.5" fill="#35363a" transform="rotate(0 1163.0 911.0)"/>
<path d="M1000.0,829.0L1007.0,827.0L1013.0,825.0" fill="none" stroke="#8a5a5c" stroke-width="1.2" stroke-opacity="0.80" stroke-linejoin="round" stroke-linecap="round"/>
</svg>
<div class="t" style="left:538.5px;top:1.5px;font-size:23.7px;color:#9a9a9a;letter-spacing:12.16px;">CANADA</div>
<div class="t" style="left:484.0px;top:453.8px;font-size:25.0px;color:rgba(235,200,200,0.28);letter-spacing:14.32px;transform:scaleX(0.85);">UNITED</div>
<div class="t" style="left:660.5px;top:453.8px;font-size:25.0px;color:rgba(235,200,200,0.28);letter-spacing:13.42px;transform:scaleX(0.85);">STATES</div>
<div class="t" style="left:542.0px;top:841.1px;font-size:18.8px;color:#9a9a9a;letter-spacing:0.18px;">MÉXICO</div>
<div class="t" style="left:1025.5px;top:887.9px;font-size:19.0px;color:#9a9a9a;letter-spacing:-0.10px;">CUBA</div>
<div class="t" style="left:787.0px;top:801.9px;font-size:19.0px;color:#626366;letter-spacing:0.63px;font-weight:bold;font-style:italic;">Gulf of</div>
<div class="t" style="left:789.0px;top:830.9px;font-size:19.0px;color:#626366;letter-spacing:-0.28px;font-weight:bold;font-style:italic;">Mexico</div>
<svg class="abs" style="left:1339.0px;top:939.0px" width="38" height="32" viewBox="0 0 38 32"><path d="M1 1 L13 1 L17 5 L37 5 L37 31 L30 31 L30 27 L8 27 L8 31 L1 31 Z" fill="#fff"/><path d="M7 13 H31 M7 19 H31" stroke="#222328" stroke-width="2.2"/></svg>
</div>
<div class="abs" style="left:1918px;top:37px;width:2px;height:1043px;background:#e9eaea"></div>
<div class="abs" style="left:526px;top:1028px;width:1394px;height:52px;background:#f5f6f6"></div>
<div class="abs" style="left:0;top:1078px;width:1920px;height:2px;background:#d6d7d7"></div>
<div class="abs" style="left:537px;top:1031.3px;width:199.7px;height:42.7px;box-sizing:border-box;border:2px solid #bcbdbd;background:#fff"></div>
<div class="t" style="left:550.6px;top:1044.1px;font-size:22.0px;color:#444;transform:scaleX(0.9572);">1:41,943,601</div>
<svg class="abs" style="left:716px;top:1048px" width="12" height="8" viewBox="0 0 12 8"><path d="M1 1 L10 1 L5.5 6.5 Z" fill="#444"/></svg>
<div class="abs" style="left:745.5px;top:1039.5px;width:1.5px;height:28px;background:#8d8d8d"></div>
<div class="abs" style="left:939.5px;top:1039.5px;width:1.5px;height:28px;background:#8d8d8d"></div>
<div class="abs" style="left:1529.5px;top:1039.5px;width:1.5px;height:28px;background:#8d8d8d"></div>
<div class="abs" style="left:1805.0px;top:1039.5px;width:1.5px;height:28px;background:#8d8d8d"></div>
<div class="abs" style="left:1862.5px;top:1039.5px;width:1.5px;height:28px;background:#8d8d8d"></div>
<svg class="abs" style="left:760px;top:1037px" width="34" height="30" viewBox="0 0 34 30"><path d="M1.5 1.5 H21.5 V19.5 H1.5 Z M11.5 1.5 V19.5 M1.5 10.5 H21.5" fill="none" stroke="#8a8a8a" stroke-width="1.6"/><path d="M24 14 V28 M17 21 H31" stroke="#3a8ad4" stroke-width="2.4"/></svg>
<svg class="abs" style="left:804px;top:1037px" width="34" height="32" viewBox="0 0 34 32"><rect x="2" y="3" width="8" height="5" fill="none" stroke="#777" stroke-width="1.5"/><rect x="24" y="17" width="8" height="5" fill="#fff" stroke="#777" stroke-width="1.5"/><path d="M10 8 L24 18" stroke="#4a90d9" stroke-width="1.5" stroke-dasharray="3 2"/><path d="M26 1 V11 M21 6 H31" stroke="#666" stroke-width="1.6"/><path d="M6 27 L28 12 L32 27 Z" fill="#7fb6e8" fill-opacity="0.55"/><path d="M6 27.5 H33" stroke="#3a8ad4" stroke-width="2"/><rect x="1" y="24" width="6" height="6" fill="#5b8a3c"/></svg>
<svg class="abs" style="left:851px;top:1039px" width="27" height="27" viewBox="0 0 27 27"><path d="M1 1 H26 V26 H1 Z M7.25 1 V26 M13.5 1 V26 M19.75 1 V26 M1 7.25 H26 M1 13.5 H26 M1 19.75 H26" fill="none" stroke="#9b9b9b" stroke-width="1.4"/></svg>
<svg class="abs" style="left:891px;top:1036px" width="36" height="34" viewBox="0 0 36 34"><text x="0" y="22" font-family="Liberation Sans,sans-serif" font-weight="bold" font-size="17" fill="#3a8ad4">N</text><path d="M17 2 V32 L33 15" fill="none" stroke="#777" stroke-width="1.6"/><path d="M24 4 C29 5 30 9 28 13 M24.5 11.5 L28 14 L30.5 9.5" fill="none" stroke="#3a8ad4" stroke-width="1.8"/></svg>
<div class="t" style="left:1069.0px;top:1044.1px;font-size:22.0px;color:#444;transform:scaleX(1.0041);">65.3975821°W 17.4680090°N</div>
<svg class="abs" style="left:1384px;top:1046px" width="20" height="14" viewBox="0 0 20 14"><path d="M2 2.5 L10 10.5 L18 2.5" fill="none" stroke="#444" stroke-width="2.6"/></svg>
<svg class="abs" style="left:1543px;top:1037px" width="36" height="34" viewBox="0 0 36 34"><path d="M14 2 H34 V18 H22" fill="#f2f2f2" stroke="#b5b5b5" stroke-width="1.4"/><path d="M21 5 L24.5 12 L28 5 M29 4 V12" fill="none" stroke="#b5b5b5" stroke-width="1.3"/><circle cx="10" cy="17" r="7.5" fill="#eaf3fb" stroke="#9cc6ea" stroke-width="1.6"/><path d="M6 17 H14 M10 13 V21" stroke="#9cc6ea" stroke-width="1.5"/><path d="M15.5 23 L23 31" stroke="#e5c9a8" stroke-width="3"/></svg>
<div class="t" style="left:1585.4px;top:1041.7px;font-size:22.0px;color:#b3b5b5;transform:scaleX(1.0099);">Selected Features: 0</div>
<div class="abs" style="left:1820px;top:1039.5px;width:11px;height:24px;background:#5a5a5a"></div>
<div class="abs" style="left:1836.5px;top:1039.5px;width:10.5px;height:24px;background:#5a5a5a"></div>
<svg class="abs" style="left:1876px;top:1036px" width="36" height="36" viewBox="0 0 36 36"><path d="M4 15 C6 7 14 3 22 6 L26 9" fill="none" stroke="#2e8ad8" stroke-width="3.6"/><path d="M20 12 L31 13 L31 2 Z" fill="#2e8ad8"/><path d="M32 20 C30 28 22 32 14 29 L10 26" fill="none" stroke="#2e8ad8" stroke-width="3.6"/><path d="M16 23 L5 22 L5 33 Z" fill="#2e8ad8"/></svg>
</body></html>
